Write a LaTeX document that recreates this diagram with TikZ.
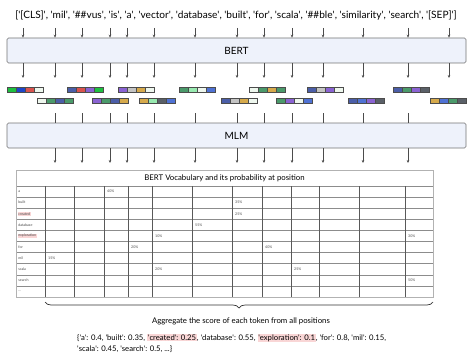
\documentclass[tikz,border=0pt]{standalone}
\usepackage{fontspec}
\setmainfont{Lato}
\usetikzlibrary{arrows.meta,decorations.pathreplacing}
\newcommand\q{\textquotesingle}
\definecolor{cG}{HTML}{1EC040}
\definecolor{cB}{HTML}{1F45C8}
\definecolor{cR}{HTML}{D9534F}
\definecolor{cW}{HTML}{EEF7EE}
\definecolor{cN}{HTML}{4B5EA8}
\definecolor{cP}{HTML}{8A63D2}
\definecolor{cS}{HTML}{C4C4C4}
\definecolor{cY}{HTML}{D6AA4C}
\definecolor{cD}{HTML}{4B9A6B}
\definecolor{cL}{HTML}{98EAB0}
\definecolor{cU}{HTML}{4F72D4}
\definecolor{cK}{HTML}{5A6068}
\definecolor{boxfill}{HTML}{EEF2FB}
\definecolor{hl}{HTML}{F9D6D6}
\newcommand\embbar[3]{%
  \foreach \c [count=\i from 0] in {#3} {%
    \filldraw[fill=\c, draw=black!70, line width=0.4pt] (#1+9*\i,#2) rectangle ++(9,5);
  }%
}
\begin{document}
\begin{tikzpicture}[x=1pt,y=-1pt,
  bigbox/.style={draw=black!55, fill=boxfill, rounded corners=1.5pt, line width=0.6pt,
    minimum width=459pt, minimum height=25pt, inner sep=0pt, font=\fontsize{10}{11}\selectfont},
  conn/.style={draw=black!70, line width=0.5pt, -{Stealth[length=3pt,width=2.6pt]}},
  plain/.style={draw=black!70, line width=0.5pt},
  cell/.style={anchor=west, inner sep=0pt, font=\fontsize{3.6}{4}\selectfont, text=black!70},
  lab/.style={anchor=west, inner sep=0.6pt, font=\fontsize{3.6}{4}\selectfont, text=black!70},
  hlab/.style={lab, fill=hl},
  hlt/.style={inner sep=0pt}
]
\useasboundingbox (0,0) rectangle (474,361);

% token line
\node[inner sep=0pt, font=\fontsize{10.1}{12}\selectfont] (tokens) at (236,15)
 {[\q[CLS]\q, \q mil\q, \q\#\#vus\q, \q is\q, \q a\q, \q vector\q, \q database\q, \q built\q, \q for\q, \q scala\q, \q\#\#ble\q, \q similarity\q, \q search\q, \q[SEP]\q]};

\node[bigbox] (bert) at (236.5,50.5) {BERT};
\node[bigbox] (mlm) at (236.5,135.5) {MLM};

% arrows into BERT and out of BERT
\foreach \x [count=\k] in {23,55,82,110,127,154,195,237,264,292,323,363,408,449} {
  \coordinate (t\k) at (\x,28);
  \coordinate (d\k) at (\x,78);
  \draw[conn] (t\k) -- (t\k |- bert.north);
  \draw[conn] (t\k |- bert.south) -- (d\k);
}

% embedding bars
\embbar{7}{87}{cG,cB,cR,cW}
\embbar{67}{87}{cN,cR,cP,cG}
\embbar{118}{87}{cP,cS,cY,cW}
\embbar{179}{87}{cD,cL,cW,cU}
\embbar{249}{87}{cW,cD,cY,cD}
\embbar{307}{87}{cN,cS,cP,cW}
\embbar{393}{87}{cN,cD,cP,cK}
\embbar{37}{98}{cW,cD,cN,cD}
\embbar{92}{98}{cP,cD,cN,cY}
\embbar{139}{98}{cY,cL,cK,cU}
\embbar{221}{98}{cN,cS,cY,cW}
\embbar{276}{98}{cD,cP,cW,cU}
\embbar{348}{98}{cN,cU,cP,cK}
\embbar{430}{98}{cY,cU,cD,cK}

% lines into MLM and arrows out of MLM
\foreach \x [count=\k] in {55,82,110,127,154,195,237,264,292,323,363,408} {
  \coordinate (u\k) at (\x,113);
  \coordinate (v\k) at (\x,163);
  \draw[plain] (u\k) -- (u\k |- mlm.north);
  \draw[conn] (u\k |- mlm.south) -- (v\k);
}

% table
\def\rh{11.1}
\foreach \i in {0,...,10} {
  \draw[black!45, line width=0.5pt] (16,186+\rh*\i) -- (433,186+\rh*\i);
}
\foreach \x in {45,74,104,128,152,192,232,262,291,319,359,405} {
  \draw[black!65, line width=0.5pt] (\x,186) -- (\x,297);
}
\draw[black!30, line width=0.6pt] (16,170) rectangle (433,297);
\node[inner sep=0pt, font=\fontsize{7.8}{9}\selectfont] (ttl) at (224.5,178.5)
  {BERT Vocabulary and its probability at position};

% row labels
\node[lab]  (r1)  at (17.5,186+\rh*0.5) {a};
\node[lab]  (r2)  at (17.5,186+\rh*1.5) {built};
\node[hlab] (r3)  at (17.5,186+\rh*2.5) {created};
\node[lab]  (r4)  at (17.5,186+\rh*3.5) {database};
\node[hlab] (r5)  at (17.5,186+\rh*4.5) {exploration};
\node[lab]  (r6)  at (17.5,186+\rh*5.5) {for};
\node[lab]  (r7)  at (17.5,186+\rh*6.5) {mil};
\node[lab]  (r8)  at (17.5,186+\rh*7.5) {scala};
\node[lab]  (r9)  at (17.5,186+\rh*8.5) {search};
\node[lab]  (r10) at (17.5,186+\rh*9.5) {...};

% values
\node[cell] (v-a)   at (107,186+\rh*0.5) {40\%};
\node[cell] (v-bu)  at (235,186+\rh*1.5) {35\%};
\node[cell] (v-cr)  at (235,186+\rh*2.5) {25\%};
\node[cell] (v-db)  at (195,186+\rh*3.5) {55\%};
\node[cell] (v-ex1) at (155,186+\rh*4.5) {10\%};
\node[cell] (v-ex2) at (408,186+\rh*4.5) {30\%};
\node[cell] (v-fo1) at (131,186+\rh*5.5) {20\%};
\node[cell] (v-fo2) at (265,186+\rh*5.5) {40\%};
\node[cell] (v-mi)  at (48,186+\rh*6.5) {15\%};
\node[cell] (v-sc1) at (155,186+\rh*7.5) {20\%};
\node[cell] (v-sc2) at (294,186+\rh*7.5) {25\%};
\node[cell] (v-se)  at (408,186+\rh*8.5) {50\%};

% brace
\draw[black!80, line width=0.7pt, decorate, decoration={brace, mirror, amplitude=6pt}]
  (45,302) -- (433,302);

\node[inner sep=0pt, font=\fontsize{7.8}{9}\selectfont] (agg) at (241,321)
  {Aggregate the score of each token from all positions};

\setlength{\fboxsep}{0.8pt}
\node[anchor=west, inner sep=0pt, font=\fontsize{7.7}{9}\selectfont] (res1) at (77,338)
  {\{\q a\q: 0.4, \q built\q: 0.35, \colorbox{hl}{\q created\q: 0.25}, \q database\q: 0.55, \colorbox{hl}{\q exploration\q: 0.1}, \q for\q: 0.8, \q mil\q: 0.15,};
\node[anchor=west, inner sep=0pt, font=\fontsize{7.7}{9}\selectfont] (res2) at (77,349.5)
  {\q scala\q: 0.45, \q search\q: 0.5, ...\}};
\end{tikzpicture}
\end{document}
